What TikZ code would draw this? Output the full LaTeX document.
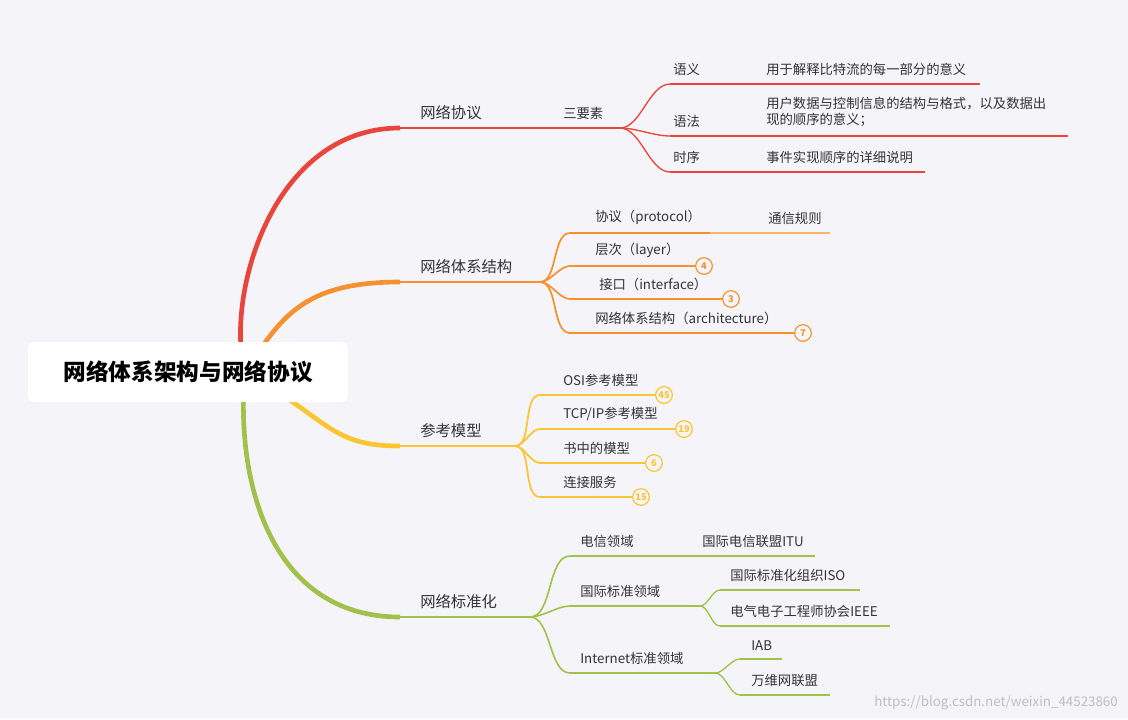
\documentclass[tikz,border=0pt]{standalone}
\usepackage{fontspec}
\setmainfont{Noto Sans CJK SC}
\usetikzlibrary{calc}
\definecolor{bg}{HTML}{F5F5F9}
\definecolor{cR}{HTML}{E8453C}
\definecolor{cO}{HTML}{F5922F}
\definecolor{cY}{HTML}{FBC532}
\definecolor{cG}{HTML}{A2C14A}
\definecolor{txt}{HTML}{333333}
\tikzset{
 lbl/.style={anchor=south west,inner sep=0pt,font=\fontsize{10}{12}\selectfont,text=txt},
 mlbl/.style={anchor=south west,inner sep=0pt,font=\fontsize{11.5}{13}\selectfont,text=txt},
 cnt/.style={circle,draw=#1,text=#1,line width=0.9pt,fill=bg,inner sep=0pt,minimum size=12.5pt,font=\fontsize{7}{8}\selectfont\bfseries},
 curve/.style={out=0,in=180,looseness=0.8},
}
% \leafA{name}{color}{xs}{xe}{y}{text}{style}{xoffset}
\newcommand\leafA[8]{%
 \coordinate (#1-s) at (#3,#5); \coordinate (#1-e) at (#4,#5);
 \draw[#2,line width=1.3pt] (#1-s) -- (#1-e);
 \node[#7] (#1) at ($(#3,#5)+(#8,-8)$) {#6};}
\begin{document}
\begin{tikzpicture}[x=0.75pt,y=-0.75pt]
\fill[bg] (0,0) rectangle (1128,719);
\useasboundingbox (0,0) rectangle (1128,719);
\coordinate (root) at (245,372);
% main branches
\leafA{n1}{cR}{400}{540}{128}{网络协议}{mlbl}{20}
\leafA{n2}{cO}{400}{540}{282}{网络体系结构}{mlbl}{20}
\leafA{n3}{cY}{400}{515}{446}{参考模型}{mlbl}{20}
\leafA{n4}{cG}{400}{530}{617}{网络标准化}{mlbl}{20}
\draw[cR,line width=3.5pt] (root) .. controls (225,300) and (270,128) .. (n1-s);
\draw[cO,line width=3.5pt] (root) .. controls (280,320) and (300,282) .. (n2-s);
\draw[cY,line width=3.5pt] (root) .. controls (330,420) and (330,446) .. (n3-s);
\draw[cG,line width=3.5pt] (root) .. controls (235,480) and (270,617) .. (n4-s);
% red
\leafA{s1}{cR}{560}{620}{128}{三要素}{lbl}{3}
\draw[cR,line width=1.2pt] (n1-e) -- (s1-s);
\leafA{r1}{cR}{670}{760}{84}{语义}{lbl}{3}
\leafA{r2}{cR}{670}{760}{136}{语法}{lbl}{3}
\leafA{r3}{cR}{670}{760}{172}{时序}{lbl}{3}
\foreach \c in {r1,r2,r3}{\draw[cR,line width=1pt] (s1-e) to[curve] (\c-s);}
\leafA{r1x}{cR}{760}{980}{84}{用于解释比特流的每一部分的意义}{lbl}{6}
\draw[cR,line width=0.8pt] (r1-e)--(r1x-s);
\coordinate (r2x-s) at (760,136); \coordinate (r2x-e) at (1068,136);
\draw[cR,line width=0.8pt] (r2-e)--(r2x-s)--(r2x-e);
\node[lbl,anchor=north west,align=left] (r2x) at (766,97) {用户数据与控制信息的结构与格式，以及数据出\\现的顺序的意义；};
\leafA{r3x}{cR}{760}{925}{172}{事件实现顺序的详细说明}{lbl}{6}
\draw[cR,line width=0.8pt] (r3-e)--(r3x-s);
% orange
\leafA{o1}{cO}{570}{710}{233}{协议（protocol）}{lbl}{25}
\leafA{o2}{cO}{570}{696}{266}{层次（layer）}{lbl}{25}
\leafA{o3}{cO}{570}{724}{299}{接口（interface）}{lbl}{29}
\leafA{o4}{cO}{570}{796}{333}{网络体系结构（architecture）}{lbl}{25}
\foreach \c in {o1,o2,o3,o4}{\draw[cO,line width=1.3pt] (n2-e) to[curve] (\c-s);}
\leafA{o1x}{cO!70}{710}{830}{233}{通信规则}{lbl}{58}
\node[cnt=cO] (k2) at (704,266) {4};
\node[cnt=cO] (k3) at (731,299) {3};
\node[cnt=cO] (k4) at (803,333) {7};
% yellow
\leafA{y1}{cY}{540}{656}{395}{OSI参考模型}{lbl}{23}
\leafA{y2}{cY}{540}{676}{429}{TCP/IP参考模型}{lbl}{23}
\leafA{y3}{cY}{540}{646}{463}{书中的模型}{lbl}{23}
\leafA{y4}{cY}{540}{633}{497}{连接服务}{lbl}{23}
\foreach \c in {y1,y2,y3,y4}{\draw[cY,line width=1.3pt] (n3-e) to[curve] (\c-s);}
\node[cnt=cY] (j1) at (664,395) {45};
\node[cnt=cY] (j2) at (684,429) {19};
\node[cnt=cY] (j3) at (654,463) {6};
\node[cnt=cY] (j4) at (641,497) {15};
% green
\leafA{g1}{cG}{570}{690}{556}{电信领域}{lbl}{10}
\leafA{g2}{cG}{570}{700}{606}{国际标准领域}{lbl}{10}
\leafA{g3}{cG}{570}{715}{673}{Internet标准领域}{lbl}{10}
\foreach \c in {g1,g2,g3}{\draw[cG,line width=1.2pt] (n4-e) to[curve] (\c-s);}
\leafA{g1a}{cG}{690}{815}{556}{国际电信联盟ITU}{lbl}{12}
\draw[cG,line width=1pt] (g1-e)--(g1a-s);
\leafA{g2a}{cG}{720}{860}{590}{国际标准化组织ISO}{lbl}{10}
\leafA{g2b}{cG}{720}{890}{626}{电气电子工程师协会IEEE}{lbl}{10}
\foreach \c in {g2a,g2b}{\draw[cG,line width=1pt] (g2-e) to[curve] (\c-s);}
\leafA{g3a}{cG}{740}{782}{659}{IAB}{lbl}{11}
\leafA{g3b}{cG}{740}{830}{695}{万维网联盟}{lbl}{11}
\foreach \c in {g3a,g3b}{\draw[cG,line width=1pt] (g3-e) to[curve] (\c-s);}
% root box
\node[fill=white,rounded corners=4pt,minimum width=240pt,minimum height=45pt,font=\fontsize{17}{20}\selectfont\bfseries,text=black] (rootbox) at (188,372) {网络体系架构与网络协议};
\node[anchor=south east,inner sep=0pt,font=\fontsize{10}{12}\selectfont,text=gray!50] (wm) at (1118,710) {https://blog.csdn.net/weixin\_44523860};
\end{tikzpicture}
\end{document}
